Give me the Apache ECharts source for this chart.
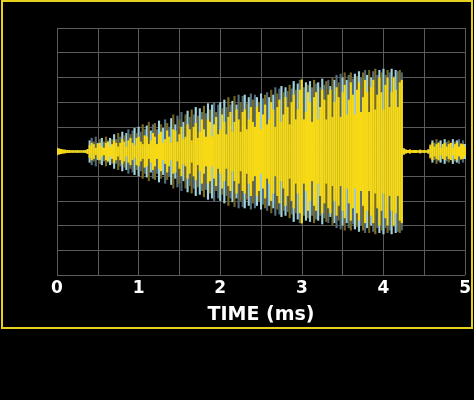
<!DOCTYPE html>
<html><head><meta charset="utf-8">
<script src="https://cdn.jsdelivr.net/npm/echarts@6/dist/echarts.min.js"></script>
<style>html,body{margin:0;background:#000}#c{width:474px;height:400px}</style>
</head><body><div id="c"></div>
<script>
const step = 0.025;
const xTicks = [0,1,2,3,4,5];
const outer = [
0.15,0.12,0.1,0.08,0.07,0.06,0.06,0.05,
0.05,0.05,0.05,0.05,0.05,0.05,0.06,0.1,
0.45,0.55,0.4,0.6,0.35,0.5,0.55,0.4,
0.6,0.45,0.55,0.5,0.7,0.5,0.75,0.6,
0.8,0.65,0.75,0.9,0.7,0.85,0.95,0.75,
1.0,0.8,1.1,0.9,1.05,1.2,0.85,1.1,
1.15,0.9,1.25,1.1,0.95,1.3,1.15,1.0,
1.35,1.5,1.1,1.45,1.3,1.6,1.2,1.5,
1.65,1.4,1.7,1.5,1.8,1.45,1.75,1.6,
1.85,1.55,1.95,1.7,1.9,2.0,1.6,1.9,
2.0,1.75,2.1,1.8,2.2,1.9,2.05,2.25,
1.9,2.3,2.0,2.25,2.3,1.95,2.2,2.35,
2.1,2.3,2.2,2.0,2.35,2.15,2.3,2.4,
2.2,2.5,2.3,2.6,2.35,2.55,2.65,2.4,
2.6,2.45,2.7,2.55,2.85,2.5,2.75,2.9,
2.95,2.6,2.8,2.7,2.85,2.6,2.9,2.75,
2.8,2.6,2.95,2.7,2.85,2.9,2.65,3.0,
2.9,3.1,2.8,3.15,3.0,3.2,2.9,3.1,
3.2,2.95,3.15,3.05,3.25,3.0,3.2,3.3,
3.1,3.3,3.0,3.25,3.35,3.1,3.3,3.2,
3.35,3.1,3.3,3.2,3.35,3.05,3.3,3.25,
3.3,3.2,0.12,0.08,0.06,0.08,0.05,0.06,
0.06,0.05,0.07,0.05,0.06,0.05,0.08,0.3,
0.45,0.35,0.5,0.4,0.45,0.3,0.5,0.4,
0.45,0.35,0.5,0.4,0.45,0.5,0.35,0.45,
0.3];
const core = [
0.15,0.12,0.1,0.08,0.07,0.06,0.06,0.05,
0.05,0.05,0.05,0.05,0.05,0.05,0.06,0.1,
0.25,0.35,0.3,0.15,0.3,0.35,0.2,0.15,
0.35,0.4,0.2,0.3,0.45,0.35,0.2,0.35,
0.5,0.4,0.2,0.45,0.55,0.35,0.25,0.55,
0.6,0.4,0.3,0.65,0.6,0.3,0.45,0.75,
0.6,0.3,0.7,0.8,0.35,0.5,0.85,0.6,
0.35,0.9,0.85,0.4,0.7,1.0,0.5,0.6,
1.1,0.9,0.45,1.0,1.15,0.55,0.8,1.3,
0.9,0.6,1.3,1.2,0.6,1.1,1.4,0.7,
0.9,1.5,1.2,0.7,1.4,1.6,0.8,1.2,
1.7,1.3,0.8,1.6,1.7,0.9,1.3,1.8,
1.2,1.0,1.8,1.6,0.9,1.5,1.9,1.1,
1.3,2.0,1.7,1.0,1.8,2.1,1.2,1.5,
2.2,1.8,1.1,2.0,2.3,1.3,1.7,2.5,
2.9,1.3,1.6,2.4,2.0,1.2,2.2,2.4,
1.3,1.8,2.5,2.1,1.3,2.3,2.5,1.4,
2.0,2.6,2.2,1.4,2.4,2.7,1.5,2.1,
2.8,2.3,1.5,2.5,2.8,1.6,2.2,2.9,
2.4,1.6,2.6,2.9,1.7,2.3,3.0,2.4,
1.7,2.7,3.0,1.8,2.4,3.0,2.5,1.8,
2.8,2.9,0.12,0.08,0.06,0.08,0.05,0.06,
0.06,0.05,0.07,0.05,0.06,0.05,0.08,0.25,
0.35,0.2,0.3,0.35,0.15,0.3,0.35,0.2,
0.3,0.35,0.15,0.3,0.35,0.2,0.3,0.3,
0.2];
const stripeColors = ['#7d6b1f','#4f6671','#a3d4dc','#6e6020','#9ccdd6','#55707a'];
const toData = arr => arr.map((a,i)=>[+(i*step).toFixed(3), a]);
function render(colorFn, widthK){
  return function(params, api){
    const t = api.value(0), a = api.value(1);
    const p1 = api.coord([t, a]), p2 = api.coord([t, -a]);
    const w = api.size([step,0])[0]*widthK;
    return {type:'rect', shape:{x:p1[0]-w/2, y:p1[1], width:w, height:Math.max(1,p2[1]-p1[1])},
      style:{fill: colorFn(params.dataIndex)}};
  };
}
const chart = echarts.init(document.getElementById('c'));
chart.setOption({
  backgroundColor:'#000',
  animation:false,
  grid:{left:57,right:7,top:28,bottom:125},
  xAxis:{type:'value',min:0,max:5,interval:0.5,
    axisLine:{show:false},axisTick:{show:false},
    splitLine:{lineStyle:{color:'#5a5a5a',width:1}},
    axisLabel:{color:'#fff',fontFamily:'DejaVu Sans',fontWeight:'bold',fontSize:17,margin:5,
      formatter:v=> xTicks.includes(v)?String(v):''},
    name:'TIME (ms)',nameLocation:'middle',nameGap:31,
    nameTextStyle:{color:'#fff',fontFamily:'DejaVu Sans',fontWeight:'bold',fontSize:19}},
  yAxis:{type:'value',min:-5,max:5,interval:1,
    axisLine:{show:false},axisTick:{show:false},axisLabel:{show:false},
    splitLine:{lineStyle:{color:'#5a5a5a',width:1}}},
  series:[
    {type:'custom',renderItem:render(i=>stripeColors[i%stripeColors.length],1.05),data:toData(outer),clip:true},
    {type:'custom',renderItem:render(()=>'#f7d916',1.05),data:toData(core),clip:true}
  ],
  graphic:[{type:'rect',shape:{x:2,y:1,width:470,height:327},style:{fill:'none',stroke:'#e6d21e',lineWidth:2},z:100}]
});
</script></body></html>
